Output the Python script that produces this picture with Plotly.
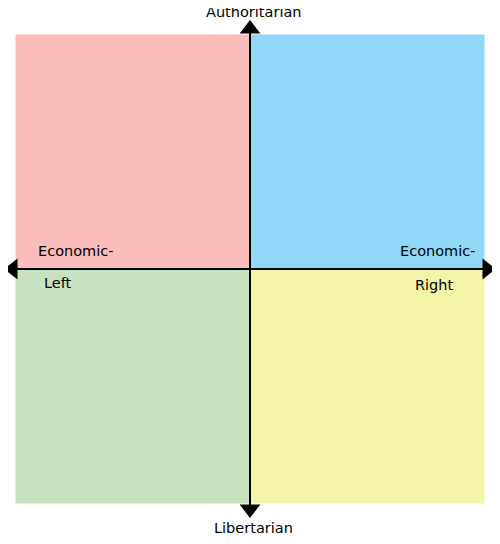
import plotly.graph_objects as go

# Quadrants in compass units (-10..10)
quad_names = ["AuthLeft", "AuthRight", "LibLeft", "LibRight"]
quad_x0 = [-10, 0, -10, 0]
quad_x1 = [0, 10, 0, 10]
quad_y0 = [0, 0, -10, -10]
quad_y1 = [10, 10, 0, 0]
quad_colors = ["#fbbcbc", "#8fd8f8", "#c8e2bf", "#f3f4a5"]

S = 23.45  # px per unit
def px_x(p): return (p - 250) / S
def px_y(p): return (269 - p) / S

fig = go.Figure()
for n, a, b, c, d, col in zip(quad_names, quad_x0, quad_x1, quad_y0, quad_y1, quad_colors):
    fig.add_shape(type="rect", x0=a, x1=b, y0=c, y1=d, fillcolor=col, line_width=0, layer="below")

fig.add_shape(type="line", x0=px_x(12), x1=px_x(488), y0=0, y1=0, line=dict(color="black", width=2))
fig.add_shape(type="line", x0=0, x1=0, y0=px_y(28), y1=px_y(510), line=dict(color="black", width=2))

fig.add_trace(go.Scatter(x=[px_x(13), px_x(487), 0, 0], y=[0, 0, px_y(29), px_y(509)],
                         mode="markers", hoverinfo="skip",
                         marker=dict(symbol=["triangle-left", "triangle-right", "triangle-up", "triangle-down"],
                                     size=18, color="black", line_width=0)))

labels = [("Authoritarian", 253, 12), ("Libertarian", 253, 528),
          ("Economic-", 75, 251), ("Left", 58, 283),
          ("Economic-", 437, 251), ("Right", 434, 285)]
for t, x, y in labels:
    fig.add_annotation(x=px_x(x), y=px_y(y), text=t, showarrow=False,
                       font=dict(family="DejaVu Sans", size=14.5, color="black"))

OFF = 8  # page body margin
fig.update_layout(width=500, height=544, margin=dict(l=0, r=0, t=0, b=0),
                  plot_bgcolor="white", paper_bgcolor="white", showlegend=False,
                  xaxis=dict(range=[px_x(OFF), px_x(500 + OFF)], visible=False, fixedrange=True),
                  yaxis=dict(range=[px_y(544 + OFF), px_y(OFF)], visible=False, fixedrange=True))
fig.write_html("out.html")
